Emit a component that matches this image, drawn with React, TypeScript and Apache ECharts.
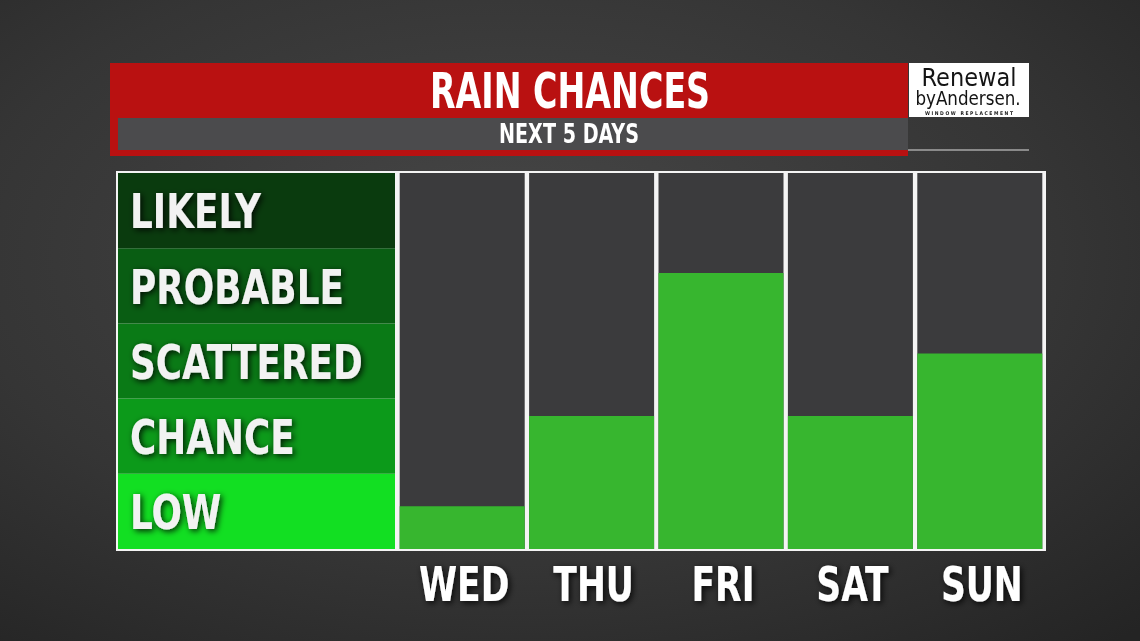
import React, { useEffect, useRef } from "react";
import * as echarts from "echarts";

const days = ["WED", "THU", "FRI", "SAT", "SUN"];
// rain chance on a 0-5 level scale (LOW .. LIKELY)
const chanceLevels = [0.57, 1.77, 3.67, 1.77, 2.6];
const levels = ["LOW", "CHANCE", "SCATTERED", "PROBABLE", "LIKELY"];
const levelColors = ["#12df22", "#0c9a1a", "#0a7a16", "#095d13", "#0a3b0e"];
const title = "RAIN CHANCES";
const subtitle = "NEXT 5 DAYS";

const FONT = "'DejaVu Sans Condensed', 'Liberation Sans Narrow', sans-serif";

export default function App() {
  const ref = useRef<HTMLDivElement>(null);
  useEffect(() => {
    if (!ref.current) return;
    const chart = echarts.init(ref.current, null, { renderer: "svg" });
    const shadow = {
      textShadowColor: "rgba(0,0,0,0.85)",
      textShadowBlur: 6,
      textShadowOffsetX: 2,
      textShadowOffsetY: 2,
    };
    const baseGraphic: any[] = [
      { type: "rect", z: 0, shape: { x: 116, y: 171, width: 930, height: 380 }, style: { fill: "#f4f4f4" } },
      { type: "rect", z: 0, shape: { x: 110, y: 63, width: 798, height: 93 }, style: { fill: "#b91111" } },
      { type: "rect", z: 0, shape: { x: 118, y: 118, width: 790, height: 32 }, style: { fill: "#4b4b4d" } },
      { type: "rect", z: 0, shape: { x: 908, y: 149, width: 121, height: 2 }, style: { fill: "#8a8a8a" } },
      {
        type: "text", z: 1, x: 570, y: 90, scaleX: 0.74,
        style: { text: title, fill: "#ffffff", font: `bold 50px ${FONT}`, align: "center", verticalAlign: "middle" },
      },
      {
        type: "text", z: 1, x: 569, y: 134, scaleX: 0.82,
        style: { text: subtitle, fill: "#ffffff", font: `bold 26px ${FONT}`, align: "center", verticalAlign: "middle" },
      },
      { type: "rect", z: 0, shape: { x: 909, y: 63, width: 120, height: 54 }, style: { fill: "#ffffff" } },
      {
        type: "text", z: 1, x: 969, y: 77, scaleX: 1.0,
        style: { text: "Renewal", fill: "#141414", font: `25px ${FONT}`, align: "center", verticalAlign: "middle" },
      },
      {
        type: "text", z: 1, x: 968, y: 98, scaleX: 0.93,
        style: { text: "byAndersen.", fill: "#141414", font: `20px ${FONT}`, align: "center", verticalAlign: "middle" },
      },
      {
        type: "text", z: 1, x: 969, y: 113,
        style: { text: "W I N D O W   R E P L A C E M E N T", fill: "#1a1a1a", font: `bold 5px ${FONT}`, align: "center", verticalAlign: "middle" },
      },
    ];
    chart.setOption({
      animation: false,
      backgroundColor: {
        type: "radial",
        x: 0.45,
        y: 0.4,
        r: 0.8,
        colorStops: [
          { offset: 0, color: "#474747" },
          { offset: 0.6, color: "#353535" },
          { offset: 1, color: "#242424" },
        ],
      },
      graphic: baseGraphic,
      grid: [
        { left: 397.5, top: 173, width: 647, height: 376 },
        { left: 118, top: 173, width: 277, height: 376 },
      ],
      xAxis: [
        {
          type: "category",
          gridIndex: 0,
          data: days,
          axisLine: { show: false },
          axisTick: { show: false },
          axisLabel: { show: false },
        },
        { type: "value", gridIndex: 1, min: 0, max: 1, show: false },
      ],
      yAxis: [
        { type: "value", gridIndex: 0, min: 0, max: 5, show: false },
        { type: "category", gridIndex: 1, data: levels, show: false },
      ],
      series: [
        {
          type: "bar",
          xAxisIndex: 0,
          yAxisIndex: 0,
          data: chanceLevels,
          barWidth: 125,
          itemStyle: { color: "#37b62f" },
          showBackground: true,
          backgroundStyle: { color: "#3b3b3d" },
        },
        {
          type: "bar",
          xAxisIndex: 1,
          yAxisIndex: 1,
          barCategoryGap: "0%",
          data: levels.map((l, i) => ({ value: 1, itemStyle: { color: levelColors[i] } })),
        },
      ],
    });

    const labelGraphic: any[] = [];
    days.forEach((d, i) => {
      const p = chart.convertToPixel({ xAxisIndex: 0, yAxisIndex: 0 }, [i, 0]) as number[];
      labelGraphic.push({
        type: "text", z: 5, x: p[0] + 2, y: p[1] + 35, scaleX: 0.8,
        style: {
          text: d, fill: "#ffffff", font: `bold 48px ${FONT}`, align: "center", verticalAlign: "middle",
          ...shadow,
        },
      });
    });
    levels.forEach((l, i) => {
      const p = chart.convertToPixel({ xAxisIndex: 1, yAxisIndex: 1 }, [0, i]) as number[];
      labelGraphic.push({
        type: "text", z: 5, x: p[0] + 12, y: p[1] + 1, scaleX: 0.83,
        style: {
          text: l, fill: "#f2f2f2", font: `bold 48px ${FONT}`, align: "left", verticalAlign: "middle",
          ...shadow,
        },
      });
    });
    chart.setOption({ graphic: [...baseGraphic, ...labelGraphic] });
    return () => chart.dispose();
  }, []);
  return <div ref={ref} style={{ position: "fixed", left: 0, top: 0, width: 1140, height: 641 }} />;
}
